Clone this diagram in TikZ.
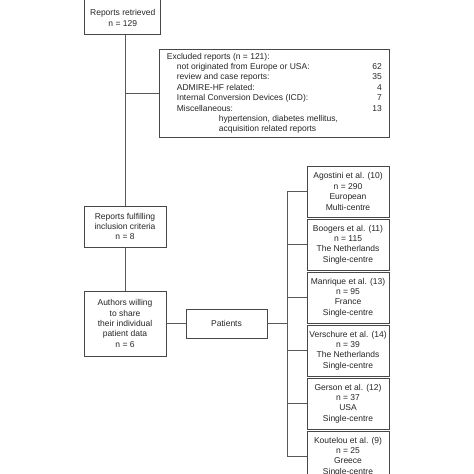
\documentclass[tikz,border=0pt]{standalone}
\usepackage{fontspec}
\setmainfont{Liberation Sans}
\begin{document}
\begin{tikzpicture}[x=1pt,y=-1pt,
  box/.style={draw=black!72, line width=0.8pt, fill=white, align=center, inner sep=0pt,
    font=\fontsize{8.5}{10.4}\selectfont, text=black!85},
  study/.style={box, minimum width=82pt, minimum height=51pt},
  link/.style={draw=black!65, line width=0.8pt}]
\useasboundingbox (0,0) rectangle (474,474);
\clip (0,0) rectangle (474,474);

% left column
\node[box, anchor=south, minimum width=76pt, inner ysep=8.5pt] (ret) at (122.75,35)
  {\rule{0pt}{22pt}Reports retrieved\\n = 129};
\node[box, minimum width=82pt, minimum height=41pt] (ful) at (125,226.5)
  {Reports fulfilling\\inclusion criteria\\n = 8};
\node[box, minimum width=82pt, minimum height=65pt] (aut) at (125,323.5)
  {Authors willing\\to share\\their individual\\patient data\\n = 6};
\node[box, minimum width=81pt, minimum height=29pt] (pat) at (226.5,323.5) {Patients};

% excluded
\node[box, anchor=north west, minimum width=230pt, minimum height=88pt, align=left] (exc) at (159,49)
  {\begin{tabular*}{215pt}{@{}l@{\extracolsep{\fill}}r@{}}
    Excluded reports (n = 121): & \\
    \hspace{10pt}not originated from Europe or USA: & 62\\
    \hspace{10pt}review and case reports: & 35\\
    \hspace{10pt}ADMIRE-HF related: & 4\\
    \hspace{10pt}Internal Conversion Devices (ICD): & 7\\
    \hspace{10pt}Miscellaneous: & 13\\
    \hspace{52pt}hypertension, diabetes mellitus, & \\
    \hspace{52pt}acquisition related reports & \\
  \end{tabular*}};

% studies
\node[study] (ag) at (348,191.5) {Agostini et al. (10)\\n = 290\\European\\Multi-centre};
\node[study] (bo) at (348,244.5) {Boogers et al. (11)\\n = 115\\The Netherlands\\Single-centre};
\node[study] (ma) at (348,297.5) {Manrique et al. (13)\\n = 95\\France\\Single-centre};
\node[study] (ve) at (348,350.5) {Verschure et al. (14)\\n = 39\\The Netherlands\\Single-centre};
\node[study] (ge) at (348,403.5) {Gerson et al. (12)\\n = 37\\USA\\Single-centre};
\node[study] (ko) at (348,456.5) {Koutelou et al. (9)\\n = 25\\Greece\\Single-centre};

% connectors
\coordinate (brtop) at (287,191.5);
\coordinate (brbot) at (287,456.5);
\draw[link] (ret.south -| ful.north) -- (ful.north);
\draw[link] (exc.west -| ful.north) -- (exc.west);
\draw[link] (ful.south) -- (aut.north);
\draw[link] (aut.east) -- (pat.west);
\draw[link] (pat.east) -- (pat.east -| brtop);
\draw[link] (brtop) -- (brbot);
\foreach \n in {ag,bo,ma,ve,ge,ko} \draw[link] (\n.west -| brtop) -- (\n.west);
\end{tikzpicture}
\end{document}
